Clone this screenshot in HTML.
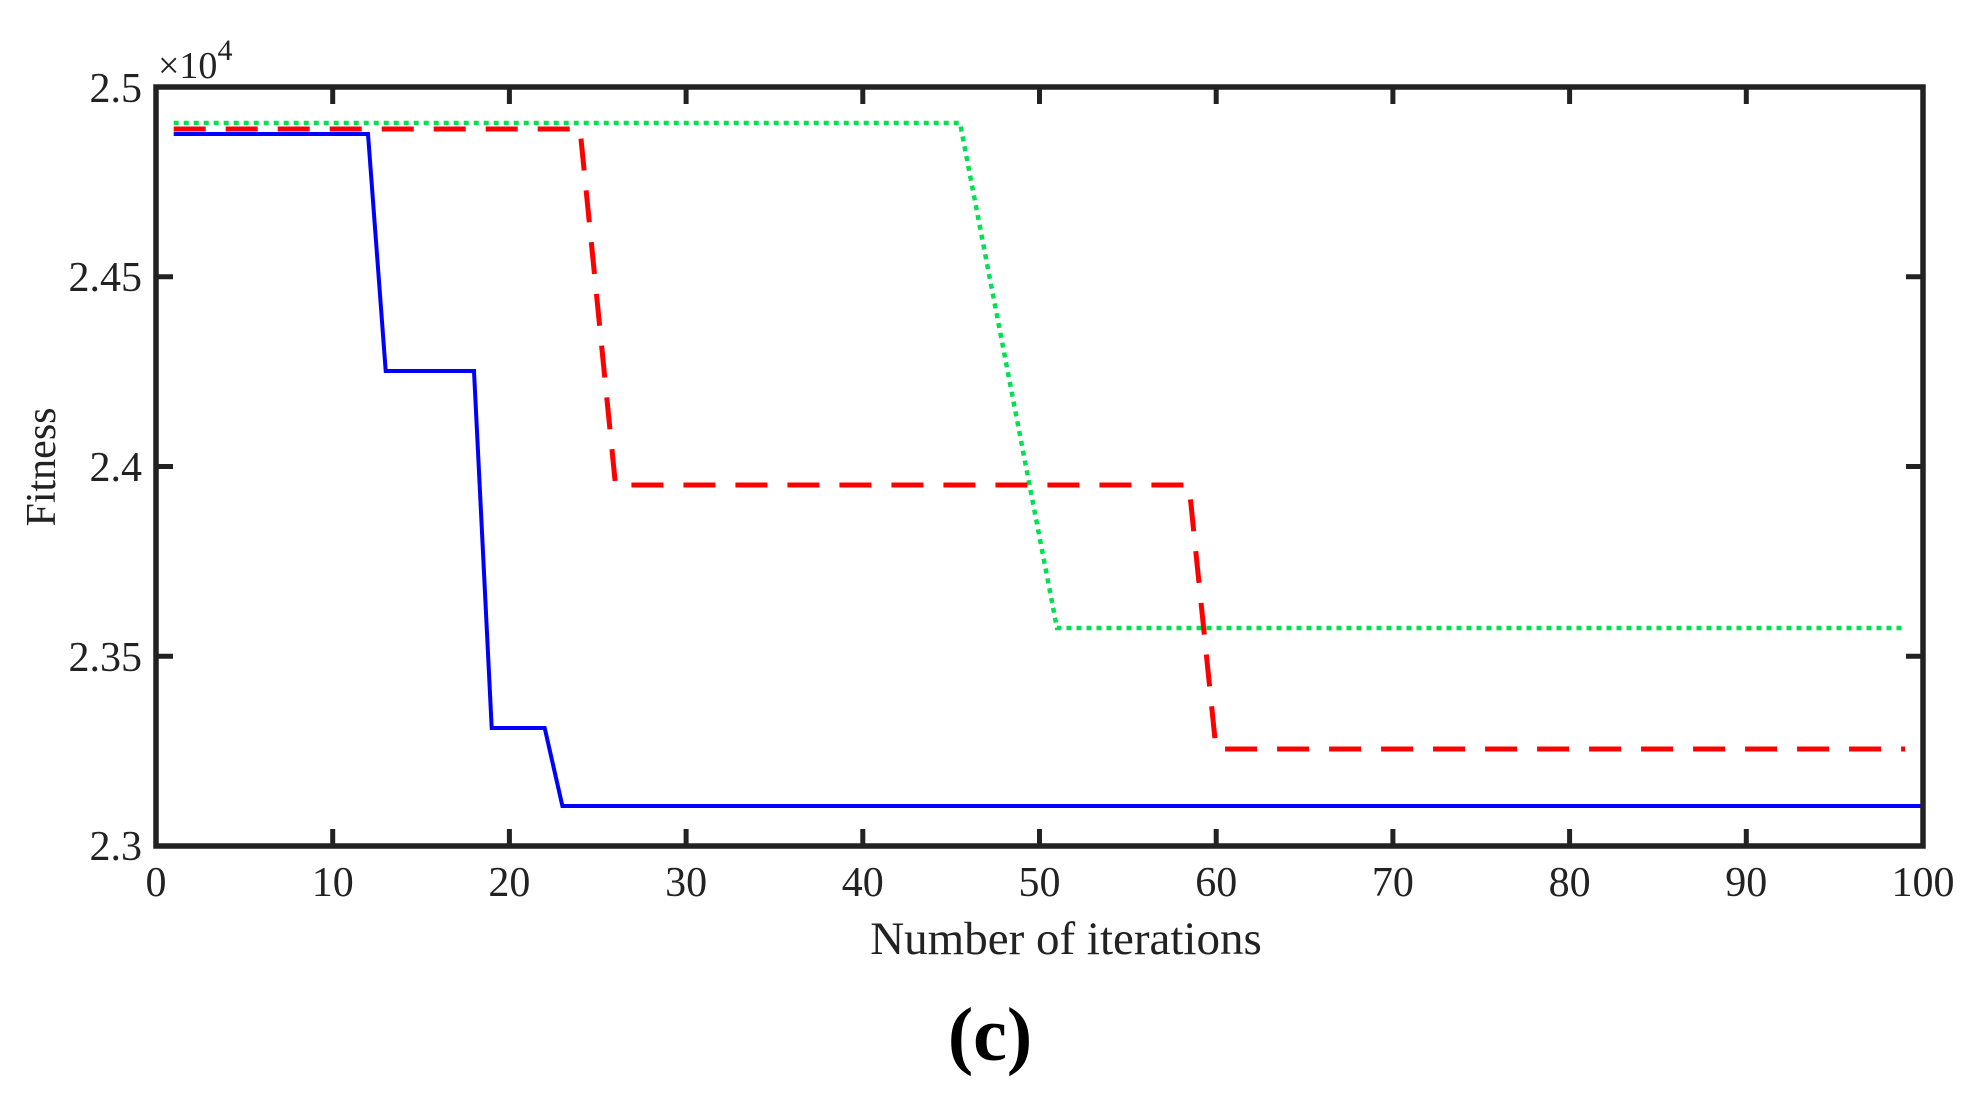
<!DOCTYPE html>
<html><head><meta charset="utf-8"><style>
html,body{margin:0;padding:0;background:#fff;}
svg text{font-family:"Liberation Serif",serif;fill:#222;}
</style></head><body>
<svg width="1977" height="1091" viewBox="0 0 1977 1091" xmlns="http://www.w3.org/2000/svg">
<rect width="1977" height="1091" fill="#fff"/>
<g fill="none" stroke-linejoin="miter">
<polyline stroke="#00e050" stroke-width="4.5" stroke-dasharray="5,5" points="173.7,123 960,123 1057,628 1905,628"/>
<polyline stroke="#ff0000" stroke-width="5" stroke-dasharray="32,20" points="173.7,129 580,129 615.5,485 1189,485 1216,749 1905,749"/>
<polyline stroke="#0000ff" stroke-width="4" points="173.7,134 368,134 385.7,371 474,371 491.7,728 544.7,728 562.4,806 1923,806"/>
</g>
<rect x="156" y="87" width="1767" height="759" fill="none" stroke="#222" stroke-width="5.5"/>
<g stroke="#222" stroke-width="5">
<line x1="332.7" y1="846" x2="332.7" y2="829"/><line x1="509.4" y1="846" x2="509.4" y2="829"/>
<line x1="686.1" y1="846" x2="686.1" y2="829"/><line x1="862.8" y1="846" x2="862.8" y2="829"/>
<line x1="1039.5" y1="846" x2="1039.5" y2="829"/><line x1="1216.2" y1="846" x2="1216.2" y2="829"/>
<line x1="1392.9" y1="846" x2="1392.9" y2="829"/><line x1="1569.6" y1="846" x2="1569.6" y2="829"/>
<line x1="1746.3" y1="846" x2="1746.3" y2="829"/>
<line x1="332.7" y1="87" x2="332.7" y2="104"/><line x1="509.4" y1="87" x2="509.4" y2="104"/>
<line x1="686.1" y1="87" x2="686.1" y2="104"/><line x1="862.8" y1="87" x2="862.8" y2="104"/>
<line x1="1039.5" y1="87" x2="1039.5" y2="104"/><line x1="1216.2" y1="87" x2="1216.2" y2="104"/>
<line x1="1392.9" y1="87" x2="1392.9" y2="104"/><line x1="1569.6" y1="87" x2="1569.6" y2="104"/>
<line x1="1746.3" y1="87" x2="1746.3" y2="104"/>
<line x1="156" y1="276.75" x2="173" y2="276.75"/><line x1="156" y1="466.5" x2="173" y2="466.5"/>
<line x1="156" y1="656.25" x2="173" y2="656.25"/>
<line x1="1923" y1="276.75" x2="1906" y2="276.75"/><line x1="1923" y1="466.5" x2="1906" y2="466.5"/>
<line x1="1923" y1="656.25" x2="1906" y2="656.25"/>
</g>
<g font-size="42" text-anchor="middle">
<text x="156" y="896">0</text><text x="332.7" y="896">10</text><text x="509.4" y="896">20</text>
<text x="686.1" y="896">30</text><text x="862.8" y="896">40</text><text x="1039.5" y="896">50</text>
<text x="1216.2" y="896">60</text><text x="1392.9" y="896">70</text><text x="1569.6" y="896">80</text>
<text x="1746.3" y="896">90</text><text x="1923" y="896">100</text>
</g>
<g font-size="42" text-anchor="end">
<text x="142" y="102">2.5</text><text x="142" y="291">2.45</text><text x="142" y="481">2.4</text>
<text x="142" y="671">2.35</text><text x="142" y="860">2.3</text>
</g>
<text x="158" y="78" font-size="38">×10<tspan font-size="30" dy="-18">4</tspan></text>
<text x="1066" y="954" font-size="47" text-anchor="middle">Number of iterations</text>
<text transform="translate(55,467) rotate(-90)" font-size="42" text-anchor="middle">Fitness</text>
<text x="990" y="1060" font-size="76" font-weight="bold" text-anchor="middle" style="fill:#000">(c)</text>
</svg>
</body></html>
